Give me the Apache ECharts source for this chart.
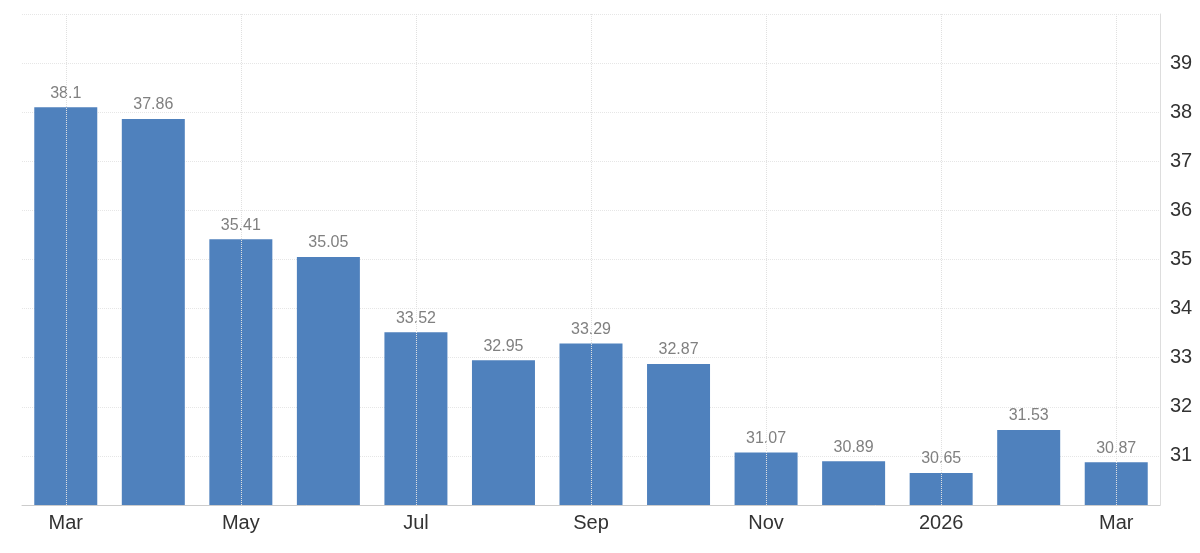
<!DOCTYPE html>
<html><head><meta charset="utf-8">
<script src="https://cdn.jsdelivr.net/npm/echarts@6/dist/echarts.min.js"></script>
<style>html,body{margin:0;background:#fff}#main{width:1200px;height:553px}</style>
</head><body><div id="main"></div>
<script>
const months = ["Mar","Apr","May","Jun","Jul","Aug","Sep","Oct","Nov","Dec","2026","Feb","Mar2"];
const tickLabels = ["Mar","","May","","Jul","","Sep","","Nov","","2026","","Mar"];
const values = [38.1,37.86,35.41,35.05,33.52,32.95,33.29,32.87,31.07,30.89,30.65,31.53,30.87];

var chart = echarts.init(document.getElementById('main'));
var option = {
  animation: false,
  grid: {left: 22, right: 40, top: 14, bottom: 48},
  xAxis: {
    type: 'category',
    data: months,
    axisLine: {lineStyle: {color: '#ccc'}},
    axisTick: {show: false},
    axisLabel: {
      interval: 0, fontSize: 20, color: '#333', fontFamily: 'Arial', margin: 8,
      formatter: function(v, i){ return tickLabels[i]; }
    }
  },
  yAxis: {
    type: 'value', position: 'right', min: 30, max: 40, interval: 1,
    axisLine: {show: true, lineStyle: {color: '#ddd'}},
    axisLabel: {
      fontSize: 20, color: '#333', fontFamily: 'Arial', margin: 10,
      formatter: function(v){ return (v === 30 || v === 40) ? '' : v; }
    },
    splitLine: {lineStyle: {color: '#e6e6e6', type: 'dotted'}}
  },
  series: [{
    type: 'bar',
    data: values,
    barWidth: 63,
    itemStyle: {color: '#4f81bd'},
    label: {show: true, position: 'top', color: '#808080', fontSize: 16, fontFamily: 'Arial', distance: 6},
    markLine: {
      silent: true, symbol: 'none', label: {show: false},
      lineStyle: {color: '#e0e0e0', type: 'dotted', width: 1},
      data: [{xAxis: 4}, {xAxis: 6}, {xAxis: 8}, {xAxis: 10}, {xAxis: 12}, {xAxis: 2}, {xAxis: 0}]
    },
    z: 2
  }]
};
chart.setOption(option);
</script></body></html>
